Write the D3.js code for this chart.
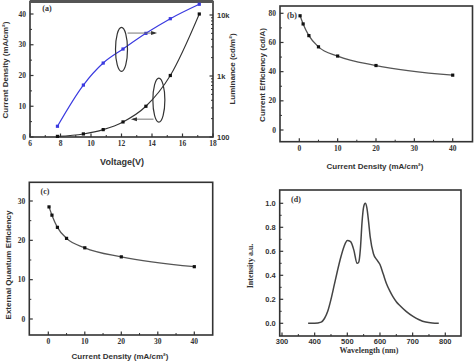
<html>
<meta charset="utf-8">
<script src="https://d3js.org/d3.v7.min.js"></script>
<style>body{margin:0;background:#fff}</style>
<div id="fig"></div>
<script>
// panel (a)
let voltage = [7.8, 9.5, 10.8, 12.1, 13.6, 15.2, 17.1]
let currentA = [0.2, 1, 2.4, 4.9, 10, 20, 40]
let luminance = [150, 710, 1630, 2770, 5000, 8700, 15000]
// panels (b) and (c)
let density = [0.2, 1, 2.5, 5, 10, 20, 40]
let efficiency = [78.3, 72.7, 64.7, 57, 50.7, 44.2, 37.6]
let eqe = [28.5, 26.4, 23.3, 20.5, 18.1, 15.8, 13.3]
// panel (d)
let wavelength = [380, 400, 420, 430, 440, 450, 460, 470, 480, 490, 500, 510, 520, 530, 535, 540, 545, 550, 555, 560, 565, 570, 580, 590, 600, 610, 620, 630, 640, 650, 660, 680, 700, 720, 740, 760, 780]
let intensity = [0, 0, 0.01, 0.04, 0.1, 0.2, 0.32, 0.44, 0.55, 0.64, 0.69, 0.68, 0.61, 0.5, 0.51, 0.62, 0.84, 0.97, 1.0, 0.96, 0.85, 0.72, 0.58, 0.53, 0.49, 0.41, 0.33, 0.27, 0.22, 0.18, 0.15, 0.1, 0.06, 0.03, 0.01, 0.002, 0]

let svg = d3.select("#fig").append("svg")
    .attr("width", 474)
    .attr("height", 362)

let serif = "'Liberation Serif', 'DejaVu Serif', serif"
let sans = "'Liberation Sans', Arial, sans-serif"
let frameColor = "#333"

// draws a boxed Origin-style panel with inward ticks
function frame(box, x, y, xTicks, xMinor, yTicks, yMinor, tickFont, fmtY, xOff) {
  let g = svg.append("g")
  g.append("rect")
    .attr("x", box[0]).attr("y", box[1])
    .attr("width", box[2] - box[0]).attr("height", box[3] - box[1])
    .attr("fill", "none").attr("stroke", frameColor).attr("stroke-width", 1.6)
  xTicks.forEach(function(t) {
    g.append("line").attr("x1", x(t)).attr("x2", x(t))
      .attr("y1", box[3]).attr("y2", box[3] - 3.5).attr("stroke", frameColor).attr("stroke-width", 1.2)
    g.append("text").attr("x", x(t)).attr("y", box[3] + (xOff || 9))
      .attr("text-anchor", "middle").attr("font-family", tickFont).attr("font-weight", "bold")
      .attr("font-size", "7.5px").attr("fill", "#333").text(t)
  })
  xMinor.forEach(function(t) {
    g.append("line").attr("x1", x(t)).attr("x2", x(t))
      .attr("y1", box[3]).attr("y2", box[3] - 2).attr("stroke", frameColor)
  })
  yTicks.forEach(function(t) {
    g.append("line").attr("x1", box[0]).attr("x2", box[0] + 3.5)
      .attr("y1", y(t)).attr("y2", y(t)).attr("stroke", frameColor).attr("stroke-width", 1.2)
    g.append("text").attr("x", box[0] - 4).attr("y", y(t) + 2.5)
      .attr("text-anchor", "end").attr("font-family", tickFont).attr("font-weight", "bold")
      .attr("font-size", "7.5px").attr("fill", "#333").text(fmtY ? fmtY(t) : t)
  })
  yMinor.forEach(function(t) {
    g.append("line").attr("x1", box[0]).attr("x2", box[0] + 2)
      .attr("y1", y(t)).attr("y2", y(t)).attr("stroke", frameColor)
  })
  return g
}

function label(txt, x, y, font, size, rot) {
  let t = svg.append("text")
    .attr("font-family", font).attr("font-weight", "bold").attr("font-size", size)
    .attr("fill", "#333").attr("text-anchor", "middle")
  if (rot) t.attr("transform", "translate(" + x + "," + y + ") rotate(-90)")
  else t.attr("x", x).attr("y", y)
  return t.text(txt)
}

function series(xs, ys, x, y, color, width, curve, marker) {
  let pts = xs.map(function(d, i) { return [x(d), y(ys[i])] })
  svg.append("path")
    .attr("d", d3.line().curve(curve)(pts))
    .attr("fill", "none").attr("stroke", color).attr("stroke-width", width)
  svg.selectAll(null).data(pts).enter().append("rect")
    .attr("x", function(d) { return d[0] - 1.6 }).attr("y", function(d) { return d[1] - 1.6 })
    .attr("width", 3.2).attr("height", 3.2).attr("fill", marker)
}

// ---------- (a)
let boxA = [30, 1.5, 213, 137]
let xA = d3.scaleLinear().domain([6, 18]).range([30, 213])
let yA = d3.scaleLinear().domain([0, 40]).range([137, 14])
let yL = d3.scaleLog().domain([100, 10000]).range([137, 15])
frame(boxA, xA, yA, d3.range(6, 19, 2), d3.range(7, 18, 2), d3.range(0, 41, 10), d3.range(5, 41, 10), serif)
svg.append("rect").attr("x", 30).attr("y", 0).attr("width", 183).attr("height", 3).attr("fill", "#555")
let logMajor = [100, 1000, 10000]
let logMinor = d3.range(200, 1000, 100).concat(d3.range(2000, 10000, 1000))
logMajor.forEach(function(t) {
  svg.append("line").attr("x1", 213).attr("x2", 209.5).attr("y1", yL(t)).attr("y2", yL(t))
    .attr("stroke", frameColor).attr("stroke-width", 1.2)
  svg.append("text").attr("x", 217).attr("y", yL(t) + 2.5)
    .attr("font-family", sans).attr("font-weight", "bold").attr("font-size", "7.5px").attr("fill", "#333")
    .text(d3.format("~s")(t))
})
logMinor.forEach(function(t) {
  svg.append("line").attr("x1", 213).attr("x2", 211).attr("y1", yL(t)).attr("y2", yL(t)).attr("stroke", frameColor)
})
series(voltage, currentA, xA, yA, "#333", 1.1, d3.curveMonotoneX, "#111")
series(voltage, luminance, xA, yL, "#3a3ae0", 1.2, d3.curveMonotoneX, "#3a3ae0")

// ellipses with arrows pointing to each axis
let ann = [{cx: 12.0, cy: 28.5, ay: 33.8, from: 12.4, to: 14.2},
           {cx: 14.45, cy: 12, ay: 5.8, from: 14.1, to: 12.75}]
ann.forEach(function(a) {
  svg.append("ellipse").attr("cx", xA(a.cx)).attr("cy", yA(a.cy)).attr("rx", 6).attr("ry", 22)
    .attr("fill", "none").attr("stroke", "#333").attr("stroke-width", 1.2)
  let x1 = xA(a.from), x2 = xA(a.to), yy = yA(a.ay), dir = x2 > x1 ? 1 : -1
  svg.append("line").attr("x1", x1).attr("x2", x2).attr("y1", yy).attr("y2", yy)
    .attr("stroke", "#666").attr("stroke-width", 0.9)
  svg.append("path").attr("d", "M" + (x2 + dir * 2) + "," + yy + "L" + (x2 - dir * 4) + "," + (yy - 2) + "L" + (x2 - dir * 4) + "," + (yy + 2) + "Z")
    .attr("fill", "#333")
})
label("(a)", 47, 11, serif, "8px")
label("Voltage(V)", 122, 165, sans, "9px")
label("Current Density (mA/cm\u00b2)", 8, 70, sans, "8px", true)
label("Luminance (cd/m\u00b2)", 235, 69, sans, "8px", true)

// ---------- (b)
let boxB = [280, 6, 472.5, 141.7]
let xB = d3.scaleLinear().domain([0, 40]).range([299.3, 452.7])
let yB = d3.scaleLinear().domain([0, 80]).range([130, 13.3])
frame(boxB, xB, yB, d3.range(0, 41, 10), d3.range(5, 41, 10), d3.range(0, 81, 20), d3.range(10, 81, 20), serif)
series(density, efficiency, xB, yB, "#555", 1.3, d3.curveMonotoneX, "#111")
label("(b)", 292, 18, serif, "8px")
label("Current Density (mA/cm\u00b2)", 375, 169, sans, "8px")
label("Current Efficiency (cd/A)", 265, 75, sans, "8px", true)

// ---------- (c)
let boxC = [29.3, 182.3, 212.7, 335]
let xC = d3.scaleLinear().domain([0, 40]).range([48.3, 194.3])
let yC = d3.scaleLinear().domain([0, 30]).range([319, 201])
frame(boxC, xC, yC, d3.range(0, 41, 10), d3.range(5, 41, 10), d3.range(0, 31, 10), d3.range(5, 31, 10), serif)
series(density, eqe, xC, yC, "#555", 1.3, d3.curveMonotoneX, "#111")
label("(c)", 45, 194, serif, "8px")
label("Current Density (mA/cm\u00b2)", 120, 359, sans, "8px")
label("External Quantum Efficiency", 11, 265, sans, "8px", true)

// ---------- (d)
let boxD = [279.7, 190, 461, 336]
let xD = d3.scaleLinear().domain([300, 800]).range([282, 445.3])
let yD = d3.scaleLinear().domain([0, 1]).range([323.3, 203.3])
frame(boxD, xD, yD, d3.range(300, 801, 100), d3.range(350, 800, 100), d3.range(0, 1.01, 0.2), d3.range(0.1, 1.1, 0.2), sans, d3.format(".1f"), 8)
svg.append("path")
  .attr("d", d3.line().curve(d3.curveMonotoneX)
    .x(function(d, i) { return xD(wavelength[i]) })
    .y(function(d) { return yD(d) })(intensity))
  .attr("fill", "none").attr("stroke", "#444").attr("stroke-width", 1.5)
label("(d)", 296, 202, serif, "8px")
label("Wavelength (nm)", 369, 353, serif, "8px")
label("Intensity a.u.", 253, 266, serif, "8px", true)
</script>
</html>
